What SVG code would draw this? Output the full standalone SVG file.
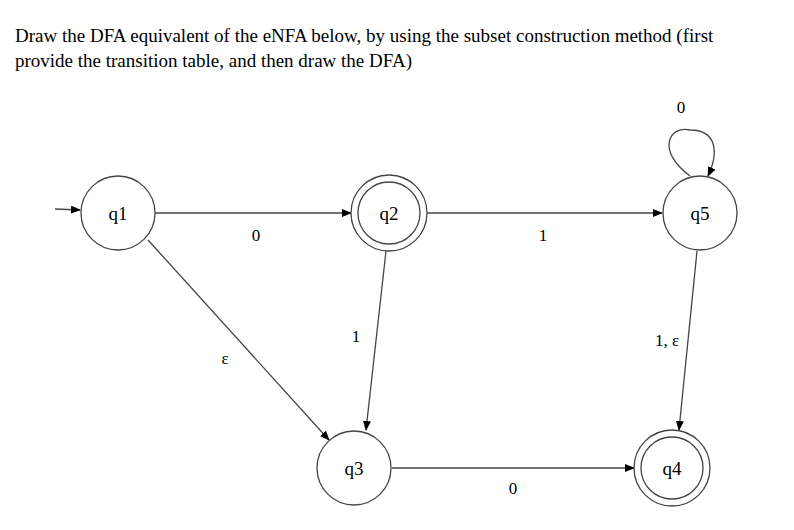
<svg xmlns="http://www.w3.org/2000/svg" width="794" height="530" viewBox="0 0 794 530">
<style>
text{font-family:"Liberation Serif",serif;fill:#000}
.t{font-size:19px}
.n{font-size:19px;text-anchor:middle}
.l{font-size:17px;text-anchor:middle}
circle{fill:#fff;stroke:#444;stroke-width:1.3}
.e{stroke:#444;stroke-width:1.3;fill:none;marker-end:url(#a)}
</style>
<defs><marker id="a" markerWidth="10" markerHeight="8" refX="9" refY="4" orient="auto" markerUnits="userSpaceOnUse"><path d="M0,0L10,4L0,8z" fill="#000"/></marker></defs>
<rect width="794" height="530" fill="#fff"/>
<text class="t" x="15" y="42">Draw the DFA equivalent of the eNFA below, by using the subset construction method (first</text>
<text class="t" x="15" y="67">provide the transition table, and then draw the DFA)</text>
<g id="edges">
<path class="e" d="M55,209L80,210"/>
<path class="e" d="M155,213L351,213"/>
<path class="e" d="M427,213L662,213"/>
<path class="e" d="M690,176C655,150 670,125 690,130C715,130 720,150 708,176"/>
<path class="e" d="M148,240L329,440"/>
<path class="e" d="M386,251L366,430"/>
<path class="e" d="M697,251L679,430"/>
<path class="e" d="M392,468L634,468"/>
</g>
<g id="labels">
<text class="l" x="256" y="241">0</text>
<text class="l" x="543" y="241">1</text>
<text class="l" x="681" y="113">0</text>
<text class="l" x="225" y="364">ε</text>
<text class="l" x="356" y="342">1</text>
<text class="l" x="667" y="346">1, ε</text>
<text class="l" x="513" y="494">0</text>
</g>
<g id="q1"><circle cx="118" cy="213" r="37"/><text class="n" x="118" y="220">q1</text></g>
<g id="q2"><circle cx="389" cy="213" r="38"/><circle cx="389" cy="213" r="31"/><text class="n" x="389" y="220">q2</text></g>
<g id="q5"><circle cx="700" cy="213" r="37"/><text class="n" x="700" y="220">q5</text></g>
<g id="q3"><circle cx="354" cy="468" r="37"/><text class="n" x="354" y="475">q3</text></g>
<g id="q4"><circle cx="672" cy="468" r="38"/><circle cx="672" cy="468" r="31"/><text class="n" x="672" y="475">q4</text></g>
</svg>
